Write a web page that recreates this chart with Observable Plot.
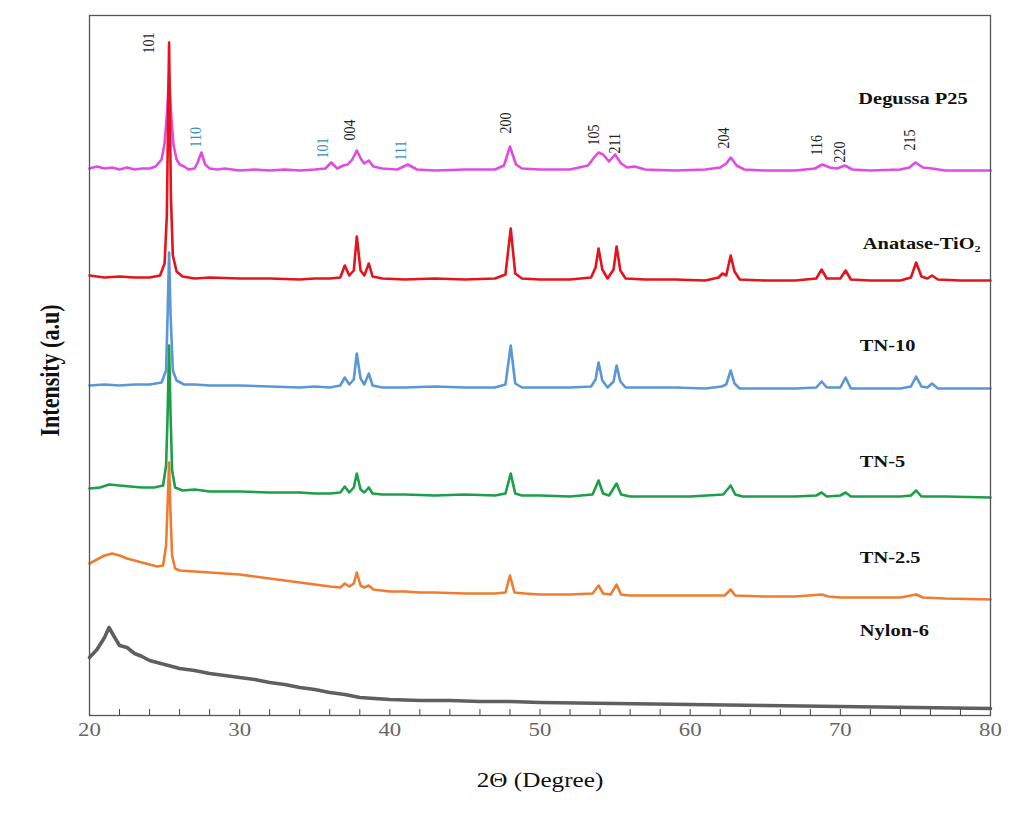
<!DOCTYPE html>
<html>
<head>
<meta charset="utf-8">
<script src="https://cdn.jsdelivr.net/npm/d3@7"></script>
<script src="https://cdn.jsdelivr.net/npm/@observablehq/plot@0.6"></script>
<style>
  html, body { margin: 0; padding: 0; background: #fff; }
  #chart svg { display: block; }
</style>
</head>
<body>
<div id="chart"></div>
<script>
// ---- data (2θ in degrees, intensity in arbitrary offset units) ----
const nylon6 = [[20,58],[20.5,66],[21,78],[21.3,88],[21.6,80],[22,70],[22.5,68],[23,62],[23.5,59],[24,55],[25,51],[26,47],[27,45],[28,42],[29,40],[30,38],[31,36],[32,33],[33,31],[34,28],[35,26],[36,23],[37,21],[38,18],[39,17],[40,16],[42,15],[44,15],[46,14],[48,14],[50,13],[55,12],[60,11],[65,10],[70,9],[75,8],[80,7]];
const tn25 = [[20,152],[20.5,156],[21,160],[21.5,162],[22,160],[22.5,157],[23,155],[23.5,153],[24,151],[24.5,149],[24.9,150],[25.1,170],[25.2,210],[25.3,253],[25.4,200],[25.5,160],[25.7,147],[26,145],[27,144],[28,143],[29,142],[30,141],[31,139],[32,137],[33,135],[34,133],[35,131],[36,129],[36.7,128],[37.0,132],[37.3,129],[37.6,132],[37.8,143],[38.05,130],[38.3,128],[38.6,130],[38.9,126],[40,124],[41,124],[42,123],[43,123],[45,122],[47,122],[47.7,123],[48.0,140],[48.3,123],[49,122],[50,121],[52,121],[53.5,122],[53.9,130],[54.2,122],[54.7,121],[55.1,131],[55.4,121],[56,120],[58,120],[60,120],[62.3,120],[62.7,126],[63.0,120],[65,119],[67,119],[68.75,121],[69.2,119],[70,118],[72,118],[74,118],[75.05,121],[75.5,118],[77,117],[80,116]];
const tn5 = [[20,227],[20.7,228],[21.3,231],[22,230],[22.7,229],[23.5,228],[24.3,228],[24.9,230],[25.1,250],[25.2,300],[25.3,370],[25.4,300],[25.5,245],[25.7,228],[26.2,225],[27,226],[28,224],[30,224],[32,223],[34,223],[35,222],[36,222],[36.7,223],[37.0,229],[37.3,223],[37.6,228],[37.8,242],[38.05,226],[38.3,223],[38.6,228],[38.85,222],[39.5,221],[41,221],[43,220],[45,221],[47,220],[47.7,222],[48.05,242],[48.35,222],[48.8,220],[50,220],[52,219],[53.5,221],[53.9,235],[54.2,222],[54.6,220],[55.1,232],[55.4,221],[56,219],[58,219],[60,219],[62.2,221],[62.7,230],[63.0,221],[63.5,219],[65,219],[67,219],[68.4,220],[68.75,223],[69.1,219],[70,220],[70.35,223],[70.7,219],[72,219],[74,219],[74.7,220],[75.05,225],[75.4,219],[77,219],[80,218]];
const tn10 = [[20,330],[21,331],[22,330],[23,331],[24,331],[24.8,333],[25.1,345],[25.2,400],[25.3,463],[25.4,400],[25.55,345],[25.8,335],[26.3,331],[27,331],[28,330],[30,330],[32,329],[34,328],[35,329],[36,328],[36.7,330],[37.0,338],[37.3,331],[37.6,336],[37.8,362],[38.05,337],[38.3,331],[38.6,342],[38.85,330],[39.5,328],[41,328],[43,329],[45,328],[47,328],[47.7,331],[48.05,370],[48.35,332],[48.8,328],[50,328],[52,328],[53.4,329],[53.7,336],[53.9,353],[54.15,335],[54.5,328],[54.9,334],[55.1,350],[55.35,334],[55.7,328],[57,328],[59,328],[61,327],[62.1,329],[62.4,331],[62.7,345],[62.95,332],[63.3,327],[65,327],[67,327],[68.4,328],[68.75,334],[69.1,328],[70,328],[70.35,338],[70.7,327],[72,327],[74,327],[74.7,329],[75.05,339],[75.4,329],[75.8,328],[76.1,332],[76.5,327],[78,327],[80,327]];
const anatase = [[20,440],[21,438],[22,439],[23,438],[24,438],[24.7,440],[25.0,452],[25.15,500],[25.3,673],[25.42,520],[25.55,460],[25.8,444],[26.2,439],[27,437],[28,438],[30,437],[32,437],[34,436],[35,437],[36,437],[36.7,438],[37.0,450],[37.3,440],[37.6,445],[37.8,479],[38.05,445],[38.3,440],[38.6,452],[38.85,439],[39.5,437],[41,436],[43,437],[45,436],[47,437],[47.7,441],[48.05,487],[48.35,442],[48.8,437],[50,436],[52,436],[53.4,438],[53.7,448],[53.9,467],[54.15,446],[54.5,437],[54.9,446],[55.1,469],[55.35,445],[55.7,437],[57,436],[59,436],[61,435],[61.9,438],[62.15,442],[62.4,440],[62.7,460],[62.95,444],[63.3,436],[65,435],[67,435],[68.4,437],[68.75,446],[69.1,437],[70,437],[70.35,445],[70.7,436],[72,435],[74,435],[74.7,438],[75.05,453],[75.4,439],[75.8,437],[76.1,440],[76.5,436],[78,435],[80,435]];
const p25 = [[20,547],[20.5,549],[21,547],[21.5,548],[22,546],[22.5,548],[23,546],[23.5,547],[24,547],[24.4,549],[24.8,556],[25.0,572],[25.15,600],[25.3,640],[25.45,598],[25.6,570],[25.8,556],[26.0,551],[26.3,549],[26.6,546],[27.0,547],[27.2,553],[27.45,563],[27.7,551],[28.0,547],[28.5,546],[29,547],[30,545],[31,546],[32,545],[33,546],[34,545],[35,546],[35.7,547],[36.1,553],[36.5,547],[36.9,550],[37.2,551],[37.5,556],[37.8,565],[38.1,556],[38.3,552],[38.6,555],[38.9,549],[39.5,547],[40.5,546],[41.2,551],[41.8,546],[43,545],[45,546],[47,546],[47.6,550],[48.0,569],[48.4,551],[48.8,547],[50,546],[52,546],[53.2,550],[53.6,558],[53.9,563],[54.2,561],[54.6,554],[55.0,561],[55.4,552],[55.8,548],[56.3,549],[57,546],[59,545],[61,546],[62.0,548],[62.4,552],[62.7,558],[63.1,550],[63.6,546],[65,545],[67,545],[68.3,547],[68.8,551],[69.3,548],[69.8,547],[70.3,550],[70.8,546],[72,545],[74,546],[74.6,548],[75.0,553],[75.5,548],[76.1,547],[77,545],[79,545],[80,545]];

// drawing order: bottom traces first
const seriesNames  = ["Nylon-6", "TN-2.5", "TN-5", "TN-10", "Degussa P25", "Anatase-TiO₂"];
const seriesData   = [nylon6, tn25, tn5, tn10, p25, anatase];
const seriesColors = ["#5f5f5f", "#ee7d32", "#1f9e4a", "#5a97d4", "#e24be2", "#e3141c"];

// series labels (left edge in degrees, vertical position in intensity units)
const labelX = [71.3, 71.3, 71.3, 71.3, 71.2, 71.5];
const labelY = [80, 153, 249, 365, 612, 467];

// Miller-index annotations
const hkl      = ["101", "110", "101", "004", "111", "200", "105", "211", "204", "116", "220", "215"];
const hklX     = [24.3, 27.4, 35.9, 37.7, 41.1, 48.1, 53.9, 55.3, 62.6, 68.8, 70.3, 75.0];
const hklY     = [662, 568, 557, 575, 555, 582, 570, 562, 567, 560, 553, 565];
const hklPhase = ["A", "R", "R", "A", "R", "A", "A", "A", "A", "A", "A", "A"];

const xTicks = [20, 30, 40, 50, 60, 70, 80];
const minorTicks = d3.range(20, 81, 2);

const table = seriesData.flatMap((arr, k) => arr.map(([x, y]) => ({x, y, s: seriesNames[k]})));
const labels = seriesNames.map((n, i) => ({name: n, x: labelX[i], y: labelY[i]}));
const hklData = hkl.map((t, i) => ({t, x: hklX[i], y: hklY[i], phase: hklPhase[i]}));

const serif = "'Liberation Serif', 'Times New Roman', serif";

const chart = Plot.plot({
  width: 1014,
  height: 830,
  marginLeft: 89,
  marginRight: 24,
  marginTop: 15,
  marginBottom: 115,
  style: {fontFamily: serif, background: "#fff"},
  x: {domain: [20, 80], ticks: xTicks, label: null},
  y: {domain: [0, 700], axis: null},
  color: {domain: seriesNames, range: seriesColors},
  marks: [
    ...seriesNames.map((n, k) =>
      Plot.line(table.filter(d => d.s === n), {x: "x", y: "y", stroke: seriesColors[k], strokeWidth: k === 0 ? 3.6 : 2.6, curve: "linear"})
    ),
    Plot.ruleX(minorTicks, {x: d => d, y1: 0, y2: 6, stroke: "#444", strokeWidth: 1}),
    Plot.frame({stroke: "#555", strokeWidth: 1.3}),
    Plot.axisX(xTicks, {tickSize: 0, tickPadding: 20, fontSize: 19, fill: "#666", tickFormat: d => d, label: null}),
    Plot.text(hklData, {x: "x", y: "y", text: "t", rotate: -90, textAnchor: "start", lineAnchor: "middle",
      fontSize: 14, fill: d => d.phase === "A" ? "#222" : "#3a8fc2"}),
    Plot.text(labels, {x: "x", y: "y", text: "name", textAnchor: "start", fontSize: 17, fontWeight: "bold", fill: "#111"}),
    Plot.text(["2Θ (Degree)"], {frameAnchor: "bottom", dy: 71, fontSize: 21, fill: "#111"}),
    Plot.text(["Intensity (a.u)"], {frameAnchor: "left", dx: -31, dy: 5, rotate: -90, textAnchor: "middle", lineAnchor: "middle",
      fontSize: 22, fontWeight: "bold", fill: "#111"})
  ]
});

// the reference's lettering is horizontally stretched; widen all text accordingly
d3.select(chart).selectAll("text").each(function () {
  const el = d3.select(this);
  const t = el.attr("transform") || "";
  const x = el.attr("x"), y = el.attr("y");
  let base = t;
  if (x != null || y != null) {
    base = `translate(${+x || 0},${+y || 0}) ` + t;
    el.attr("x", null).attr("y", null);
  }
  el.attr("transform", base + (t.includes("rotate") ? " scale(1,1.2)" : " scale(1.2,1)"));
});

document.getElementById("chart").append(chart);
</script>
</body>
</html>
